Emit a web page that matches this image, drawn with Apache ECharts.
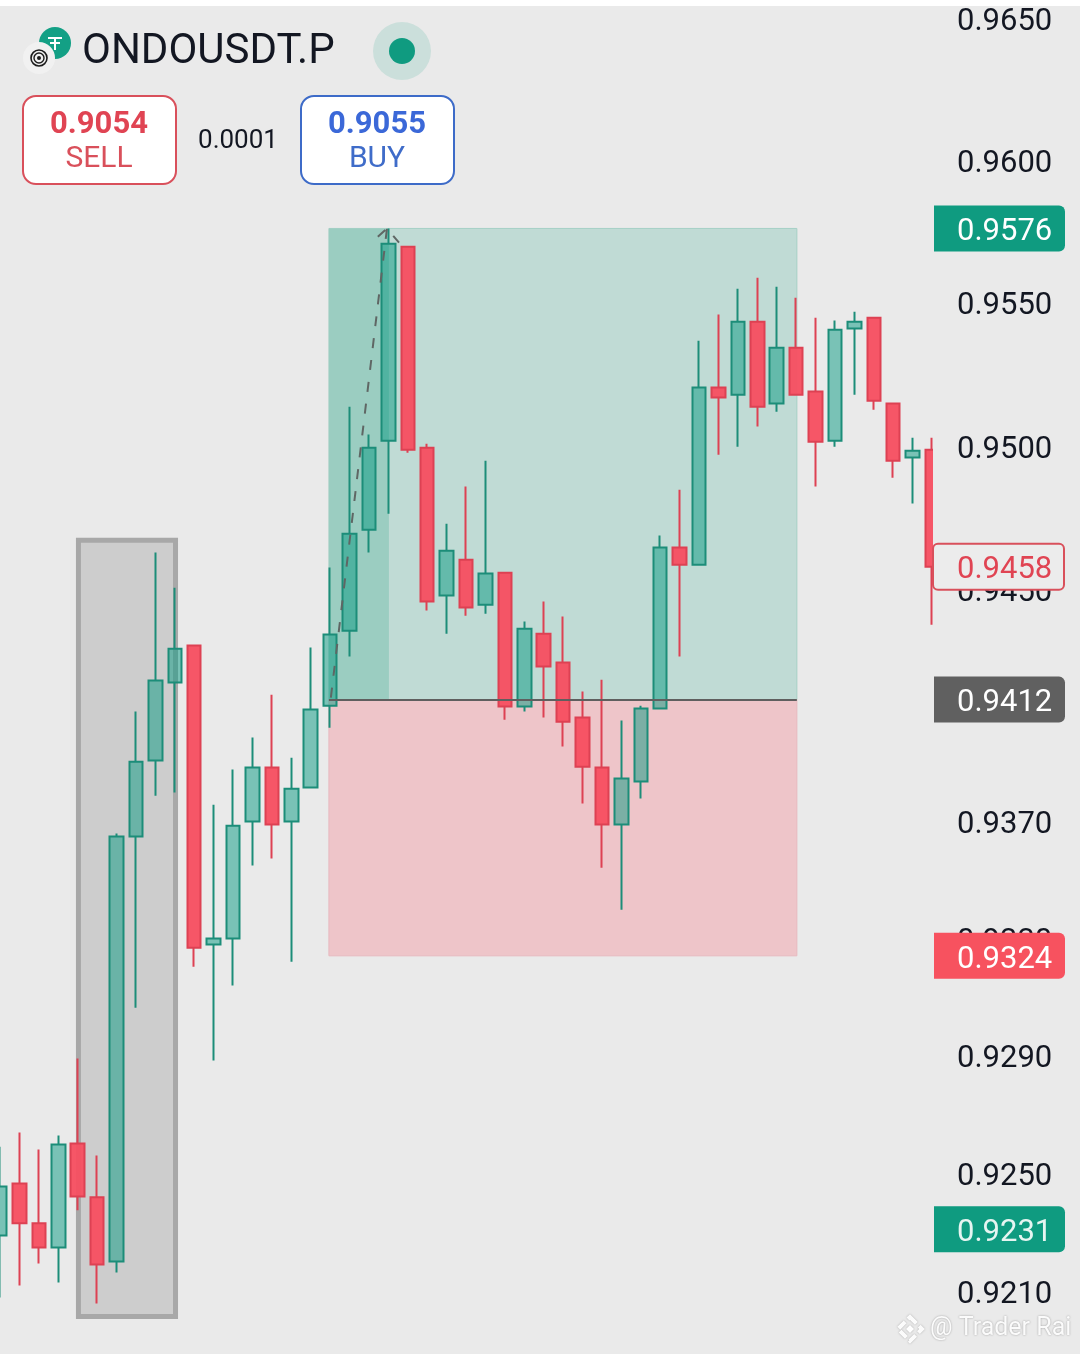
<!DOCTYPE html>
<html>
<head>
<meta charset="utf-8">
<style>
  html, body { margin: 0; padding: 0; background: #eaeaea; }
  #chart { width: 1080px; height: 1354px; }
</style>
<script src="https://cdn.jsdelivr.net/npm/echarts@6/dist/echarts.min.js"></script>
</head>
<body>
<div id="chart"></div>
<script>
// ONDOUSDT.P candles, oldest first
const opens = [0.92289,0.92465,0.92330,0.92248,0.92601,0.92418,0.92201,0.93649,0.93910,0.94179,0.94307,0.93279,0.93299,0.93700,0.93886,0.93700,0.93817,0.94099,0.94358,0.94708,0.95018,0.95696,0.94993,0.94480,0.94604,0.94448,0.94559,0.94096,0.94348,0.94248,0.94058,0.93886,0.93690,0.93838,0.94089,0.94646,0.94587,0.95203,0.95178,0.95433,0.95147,0.95342,0.95189,0.95018,0.95409,0.95447,0.95147,0.94959,0.94986];
const closes = [0.92455,0.92330,0.92248,0.92597,0.92421,0.92191,0.93649,0.93906,0.94186,0.94296,0.93268,0.93299,0.93686,0.93886,0.93690,0.93813,0.94086,0.94345,0.94694,0.94993,0.95706,0.94986,0.94459,0.94635,0.94438,0.94556,0.94096,0.94365,0.94234,0.94044,0.93889,0.93690,0.93848,0.94089,0.94646,0.94587,0.95203,0.95168,0.95433,0.95136,0.95342,0.95178,0.95014,0.95405,0.95433,0.95157,0.94948,0.94983,0.9458];
const lows = [0.92079,0.92120,0.92194,0.92130,0.92374,0.92059,0.92164,0.93063,0.93789,0.93800,0.93203,0.92883,0.93139,0.93549,0.93573,0.93220,0.93817,0.94023,0.94269,0.94629,0.94764,0.94976,0.94428,0.94348,0.94410,0.94417,0.94051,0.94079,0.94058,0.93958,0.93762,0.93542,0.93398,0.93779,0.94089,0.94269,0.94587,0.94969,0.94997,0.95067,0.95119,0.95178,0.94858,0.94997,0.95178,0.95126,0.94889,0.94799,0.94379];
const highs = [0.92590,0.92638,0.92580,0.92628,0.92890,0.92560,0.93659,0.94079,0.94629,0.94507,0.94307,0.93758,0.93879,0.93989,0.94137,0.93920,0.94300,0.94577,0.95136,0.95039,0.9576,0.95696,0.95007,0.94729,0.94858,0.94948,0.94559,0.94390,0.94459,0.94407,0.94148,0.94189,0.94048,0.94099,0.94688,0.94847,0.95367,0.95458,0.95549,0.95587,0.95556,0.95517,0.95447,0.95437,0.95468,0.95447,0.95147,0.95028,0.95028];
const categories = opens.map((_, i) => String(i + 1));

// price scale ticks and the marker prices shown on the scale
const priceTicks = [0.965, 0.96, 0.955, 0.95, 0.945, 0.937, 0.933, 0.929, 0.925, 0.921];
const targetPrice = 0.9576;
const entryPrice = 0.9412;
const stopPrice = 0.9324;
const lastPrice = 0.9458;
const lowMarkPrice = 0.9231;
const badgePrices = [targetPrice, entryPrice, stopPrice, lowMarkPrice, lastPrice];
const badgeStyles = ['target', 'entry', 'stop', 'low', 'last'];

// drawing extents, in candle index and price
const positionSpan = [16.94, 41.04];
const positionStripEnd = 20.03;
const highlightSpan = [4.04, 9.04];
const highlightPrices = [0.94672, 0.92015];

// rising dashed trend and its arrow head
const trendX = [17.04, 19.93, null, 19.46, 19.93, 20.55];
const trendY = [0.94127, 0.9576, null, 0.95731, 0.9576, 0.95710];

// quote header
const symbolName = 'ONDOUSDT.P';
const sellQuote = '0.9054';
const buyQuote = '0.9055';
const spreadQuote = '0.0001';
const watermark = '@ Trader Rai';

const FONT = 'Roboto, "Noto Sans", sans-serif';
const INK = '#131722';
const PAGE = '#eaeaea';

const candles = categories.map((_, i) => [opens[i], closes[i], lows[i], highs[i]]);
const trendData = trendX.map((x, i) => (x === null ? ['-', '-'] : [x, trendY[i]]));

function priceAxis(extra) {
  return Object.assign({
    type: 'log',
    min: 0.92,
    max: 0.965,
    position: 'right',
    z: 10,
    axisLine: { show: false },
    axisTick: { show: false },
    splitLine: { show: false }
  }, extra);
}

const badgeBase = {
  width: 108, height: 38, lineHeight: 46, padding: [8, 0, 0, 23],
  fontFamily: FONT, fontSize: 31, align: 'left', borderRadius: [0, 6, 6, 0]
};

function text(x, y, str, size, fill, weight, align) {
  return {
    type: 'text', x, y,
    style: {
      text: str, fill, align: align || 'center', verticalAlign: 'middle',
      font: (weight || 'normal') + ' ' + size + 'px ' + FONT
    }
  };
}

function quoteBox(x, stroke) {
  return {
    type: 'rect',
    shape: { x, y: 96, width: 153, height: 88, r: 13 },
    style: { fill: '#ffffff', stroke, lineWidth: 2 }
  };
}

function diamond(cx, cy, r, style) {
  return {
    type: 'polygon',
    shape: { points: [[cx, cy - r], [cx + r, cy], [cx, cy + r], [cx - r, cy]] },
    style,
    z: 10
  };
}

const graphicElements = [
  { type: 'rect', shape: { x: 0, y: 0, width: 1080, height: 6 }, style: { fill: '#ffffff' } },

  // the open candle stops at the edge of the price scale
  { type: 'rect', shape: { x: 933, y: 430, width: 12, height: 200 }, style: { fill: PAGE }, z: 5 },

  // pair logo
  { type: 'circle', shape: { cx: 55, cy: 43, r: 16 }, style: { fill: '#13a085' } },
  { type: 'line', shape: { x1: 48, y1: 38, x2: 62, y2: 38 }, style: { stroke: '#ffffff', lineWidth: 2 } },
  { type: 'line', shape: { x1: 50, y1: 43, x2: 60, y2: 43 }, style: { stroke: '#ffffff', lineWidth: 2 } },
  { type: 'line', shape: { x1: 55, y1: 38, x2: 55, y2: 50 }, style: { stroke: '#ffffff', lineWidth: 2 } },
  { type: 'circle', shape: { cx: 39, cy: 58, r: 16 }, style: { fill: '#f1f1f1' } },
  { type: 'circle', shape: { cx: 39, cy: 58, r: 8 }, style: { fill: 'none', stroke: '#1c1c1c', lineWidth: 1.6 } },
  { type: 'circle', shape: { cx: 39, cy: 58, r: 5 }, style: { fill: 'none', stroke: '#1c1c1c', lineWidth: 1.4 } },
  { type: 'circle', shape: { cx: 39, cy: 58, r: 2 }, style: { fill: '#1c1c1c' } },

  text(82, 52, symbolName, 42, INK, 'normal', 'left'),

  // live status dot
  { type: 'circle', shape: { cx: 402, cy: 51, r: 29 }, style: { fill: '#cbdfdb' } },
  { type: 'circle', shape: { cx: 402, cy: 51, r: 13 }, style: { fill: '#0f9b80' } },

  // sell and buy quotes
  quoteBox(23, '#d9505b'),
  text(99, 125, sellQuote, 31, '#e04453', 'bold'),
  text(99, 159, 'SELL', 30, '#d9505b'),
  text(238, 141, spreadQuote, 26, INK),
  quoteBox(301, '#3d6bc8'),
  text(377, 125, buyQuote, 31, '#3b68d8', 'bold'),
  text(377, 159, 'BUY', 30, '#3f6cc9'),

  // author mark
  diamond(910, 1329, 12, { fill: 'none', stroke: 'rgba(255,255,255,0.95)', lineWidth: 4, lineDash: [9, 4],
    shadowBlur: 2, shadowColor: 'rgba(120,120,120,0.6)' }),
  diamond(910, 1329, 4, { fill: '#ffffff', shadowBlur: 2, shadowColor: 'rgba(120,120,120,0.6)' }),
  {
    type: 'text', x: 930, y: 1329, z: 10,
    style: {
      text: watermark, fill: 'rgba(255,255,255,0.95)', align: 'left', verticalAlign: 'middle',
      font: '25px ' + FONT, textShadowBlur: 2, textShadowColor: 'rgba(110,110,110,0.7)'
    }
  }
];

const chart = echarts.init(document.getElementById('chart'), null, { renderer: 'canvas' });
chart.setOption({
  animation: false,
  backgroundColor: PAGE,
  grid: { left: 0, right: 148, top: 18.5, bottom: 33, containLabel: false, outerBoundsMode: 'none' },
  xAxis: [
    { type: 'category', data: categories, boundaryGap: false, show: false },
    { type: 'value', min: 0, max: 48, show: false }
  ],
  yAxis: [
    priceAxis({
      axisLabel: {
        customValues: priceTicks,
        margin: 25,
        align: 'left',
        formatter: v => '{tick|' + Number(v).toFixed(4) + '}',
        rich: {
          tick: {
            color: INK, fontFamily: FONT, fontSize: 31, align: 'left',
            height: 38, lineHeight: 46, padding: [8, 0, 0, 0]
          }
        }
      }
    }),
    priceAxis({
      axisLabel: {
        customValues: badgePrices,
        margin: 2,
        align: 'left',
        formatter: v => {
          const i = badgePrices.findIndex(p => Math.abs(p - v) < 1e-6);
          return '{' + badgeStyles[i] + '|' + badgePrices[i].toFixed(4) + '}';
        },
        rich: {
          target: Object.assign({}, badgeBase, { color: '#ffffff', backgroundColor: '#0f9b80' }),
          entry: Object.assign({}, badgeBase, { color: '#ffffff', backgroundColor: '#606060' }),
          stop: Object.assign({}, badgeBase, { color: '#ffffff', backgroundColor: '#f7525f' }),
          low: Object.assign({}, badgeBase, { color: '#e6f5f1', backgroundColor: '#0f9b80' }),
          last: Object.assign({}, badgeBase, {
            color: '#e04453', backgroundColor: '#ececec',
            borderColor: '#d9505b', borderWidth: 2,
            width: 106, height: 36, lineHeight: 44, borderRadius: 4
          })
        }
      }
    })
  ],
  graphic: { elements: graphicElements },
  series: [
    {
      name: 'Price',
      type: 'candlestick',
      data: candles,
      barWidth: 14,
      z: 3,
      itemStyle: {
        color: 'rgba(8,153,129,0.5)',
        color0: 'rgba(247,78,96,0.95)',
        borderColor: '#1c8d79',
        borderColor0: '#dd4153',
        borderWidth: 2
      }
    },
    {
      name: 'Trend',
      type: 'line',
      xAxisIndex: 1,
      yAxisIndex: 0,
      data: trendData,
      z: 6,
      symbol: 'none',
      connectNulls: false,
      lineStyle: { color: '#5f6664', width: 2, type: [10, 12] },
      markArea: {
        silent: true,
        z: 1,
        label: { show: false },
        data: [
          // highlighted candle group
          [
            { coord: [highlightSpan[0], highlightPrices[0]],
              itemStyle: { color: '#cdcdcd', borderColor: '#a8a8a8', borderWidth: 5 } },
            { coord: [highlightSpan[1], highlightPrices[1]] }
          ],
          // profit zone
          [
            { coord: [positionSpan[0], targetPrice],
              itemStyle: { color: '#c0dbd5', borderColor: '#a7d0c6', borderWidth: 1 } },
            { coord: [positionSpan[1], entryPrice] }
          ],
          // loss zone
          [
            { coord: [positionSpan[0], entryPrice],
              itemStyle: { color: '#eec5c9', borderColor: '#e8b9bf', borderWidth: 1 } },
            { coord: [positionSpan[1], stopPrice] }
          ],
          // darker strip at the start of the position
          [
            { coord: [positionSpan[0], targetPrice], itemStyle: { color: '#9bcdc1' } },
            { coord: [positionStripEnd, entryPrice] }
          ]
        ]
      },
      markLine: {
        silent: true,
        symbol: 'none',
        z: 5,
        label: { show: false },
        lineStyle: { color: '#5f5f5f', width: 2, type: 'solid' },
        data: [[
          { coord: [positionSpan[0], entryPrice] },
          { coord: [positionSpan[1], entryPrice] }
        ]]
      }
    }
  ]
});
</script>
</body>
</html>
